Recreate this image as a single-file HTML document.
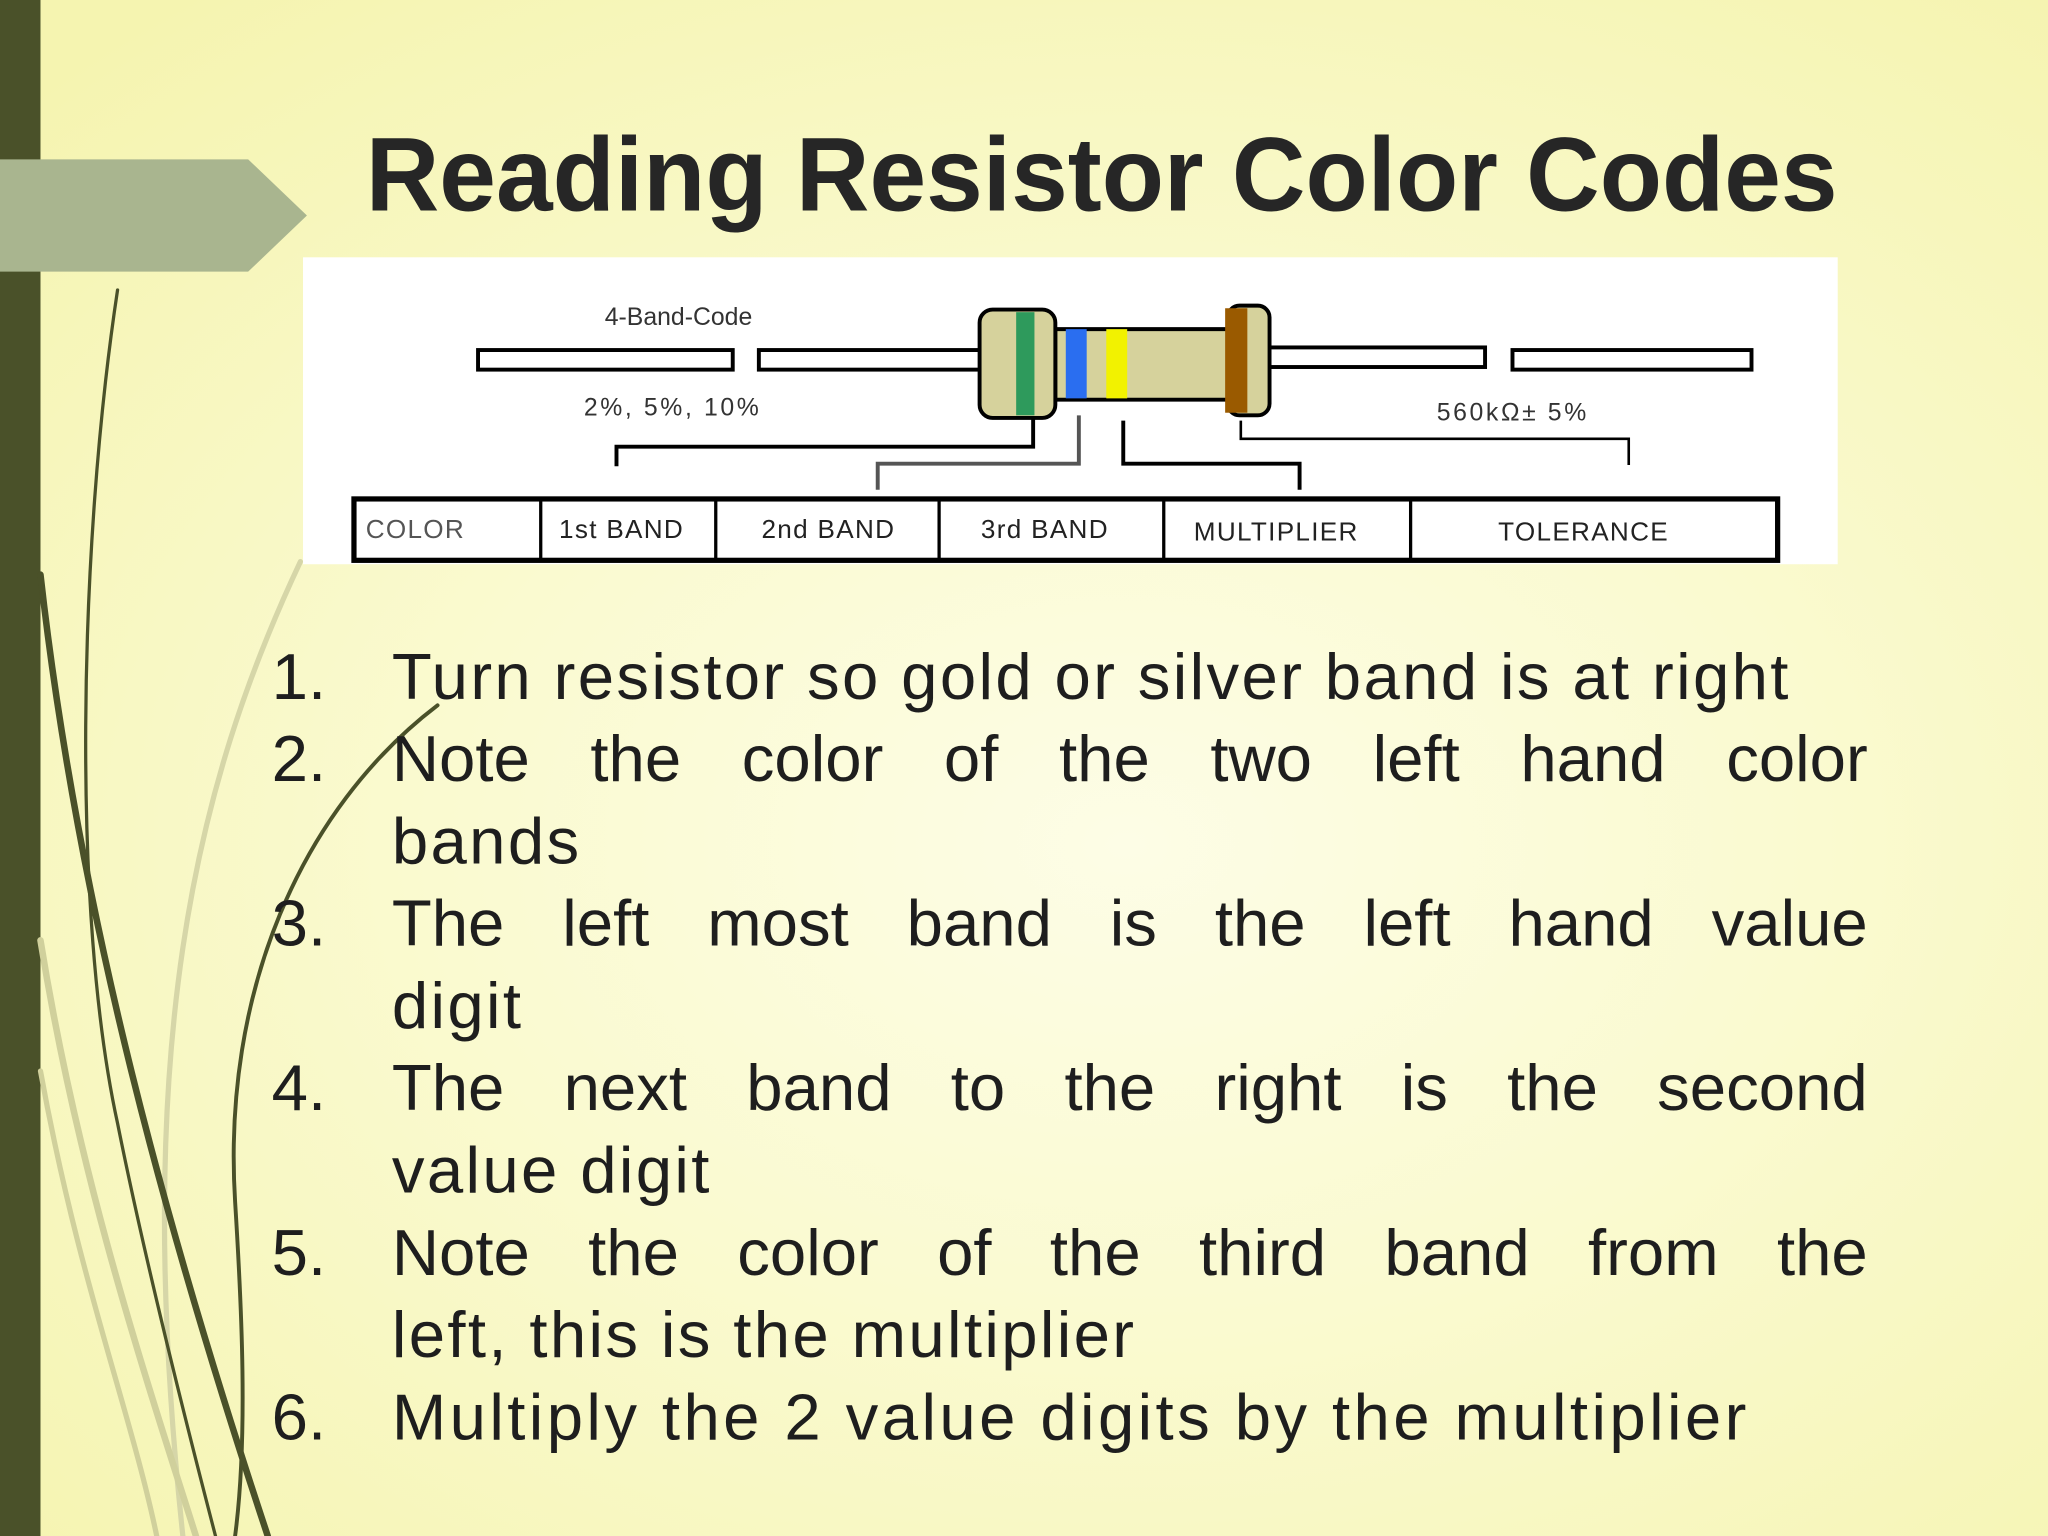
<!DOCTYPE html>
<html><head><meta charset="utf-8"><style>
html,body{margin:0;padding:0;width:2048px;height:1536px;overflow:hidden}
#s{position:absolute;left:0;top:0;width:1568px;height:1176px;transform:scale(1.306122);transform-origin:0 0;
background:radial-gradient(ellipse 75% 70% at 55% 55%,#fdfde6 0%,#fafad0 45%,#f5f4b0 100%);font-family:"Liberation Sans",sans-serif;overflow:hidden}
.t{position:absolute;left:280px;top:88px;font-size:80px;font-weight:bold;color:#262626;white-space:nowrap;transform:scaleX(0.975);transform-origin:0 0;letter-spacing:0px}
.l{position:absolute;left:300px;width:1130px;font-size:50px;color:#1e1e1e;white-space:nowrap;height:63px;line-height:63px;letter-spacing:1.8px}
.j{text-align:justify;text-align-last:justify;letter-spacing:0}
.n{position:absolute;left:208px;font-size:50px;color:#1e1e1e;height:63px;line-height:63px}
</style></head><body><div id="s">
<svg width="1568" height="1176" style="position:absolute;left:0;top:0">
<rect x="0" y="0" width="31" height="1176" fill="#4a5129"/>
<polygon points="0,122 190,122 235,165 190,208 0,208" fill="#a9b58f"/>
<g fill="none" stroke-linecap="round">
<path d="M230,430 C150,600 100,800 140,1176" stroke="#d6d6a8" stroke-width="4"/>
<path d="M31,720 C60,900 110,1050 150,1176" stroke="#d0d09c" stroke-width="5"/>
<path d="M31,820 C60,980 100,1080 120,1176" stroke="#d0d09c" stroke-width="4"/>
<path d="M90,222 C60,420 55,700 90,860 C110,960 140,1080 165,1176" stroke="#4a5129" stroke-width="2.5"/>
<path d="M31,440 C60,700 130,950 205,1176" stroke="#4a5129" stroke-width="5"/>
<path d="M335,540 C230,620 170,760 180,920 C185,1000 190,1100 180,1176" stroke="#4a5129" stroke-width="3"/>
</g>
<rect x="232" y="197" width="1175" height="235" fill="#fff"/>
<g font-family="Liberation Sans,sans-serif" fill="#333" font-size="19">
<text x="463" y="249">4-Band-Code</text>
<text x="447" y="318" letter-spacing="2">2%, 5%, 10%</text>
<text x="1100" y="322" letter-spacing="2">560kΩ± 5%</text>
</g>
<g fill="#fff" stroke="#000" stroke-width="3">
<rect x="366" y="268" width="195" height="15"/>
<rect x="581" y="268" width="170" height="15"/>
<rect x="970" y="266" width="167" height="15"/>
<rect x="1158" y="268" width="183" height="15"/>
</g>
<g stroke="#000" stroke-width="3" fill="#d6d29c">
<path d="M808,252 L940,252 L940,306 L808,306 Z"/>
<rect x="750" y="237" width="58" height="83" rx="10"/>
<rect x="940" y="234" width="32" height="84" rx="9"/>
</g>
<rect x="778" y="239" width="14" height="79" fill="#2e9a5c"/>
<rect x="816" y="252" width="16" height="53" fill="#2a6ef0"/>
<rect x="847" y="252" width="16" height="53" fill="#f2f200"/>
<rect x="938" y="236" width="17" height="80" fill="#9a5a00"/>
<g fill="none" stroke="#000" stroke-width="3">
<path d="M791,320 V342 H472 V357"/>
<path d="M826,318 V355 H672 V375" stroke="#555"/>
<path d="M860,322 V355 H995 V375"/>
<path d="M950,322 V336 H1247 V356" stroke-width="2"/>
</g>
<rect x="271" y="382" width="1090" height="47" fill="#fff" stroke="#000" stroke-width="4"/>
<g stroke="#000" stroke-width="2.5">
<line x1="414" y1="382" x2="414" y2="429"/><line x1="548" y1="382" x2="548" y2="429"/>
<line x1="719" y1="382" x2="719" y2="429"/><line x1="891" y1="382" x2="891" y2="429"/>
<line x1="1080" y1="382" x2="1080" y2="429"/>
</g>
<g font-family="Liberation Sans,sans-serif" fill="#222" font-size="20" letter-spacing="1">
<text x="280" y="412" fill="#555">COLOR</text>
<text x="428" y="412">1st BAND</text>
<text x="583" y="412">2nd BAND</text>
<text x="751" y="412">3rd BAND</text>
<text x="914" y="414">MULTIPLIER</text>
<text x="1147" y="414">TOLERANCE</text>
</g>
</svg>
<div class="t">Reading Resistor Color Codes</div>
<div class="n" style="top:487px">1.</div>
<div class="l" style="top:487px">Turn resistor so gold or silver band is at right</div>
<div class="n" style="top:550px">2.</div>
<div class="l j" style="top:550px">Note the color of the two left hand color</div>
<div class="l" style="top:613px">bands</div>
<div class="n" style="top:676px">3.</div>
<div class="l j" style="top:676px">The left most band is the left hand value</div>
<div class="l" style="top:739px">digit</div>
<div class="n" style="top:802px">4.</div>
<div class="l j" style="top:802px">The next band to the right is the second</div>
<div class="l" style="top:865px">value digit</div>
<div class="n" style="top:928px">5.</div>
<div class="l j" style="top:928px">Note the color of the third band from the</div>
<div class="l" style="top:991px">left, this is the multiplier</div>
<div class="n" style="top:1054px">6.</div>
<div class="l" style="top:1054px;letter-spacing:2.6px">Multiply the 2 value digits by the multiplier</div>
</div></body></html>
